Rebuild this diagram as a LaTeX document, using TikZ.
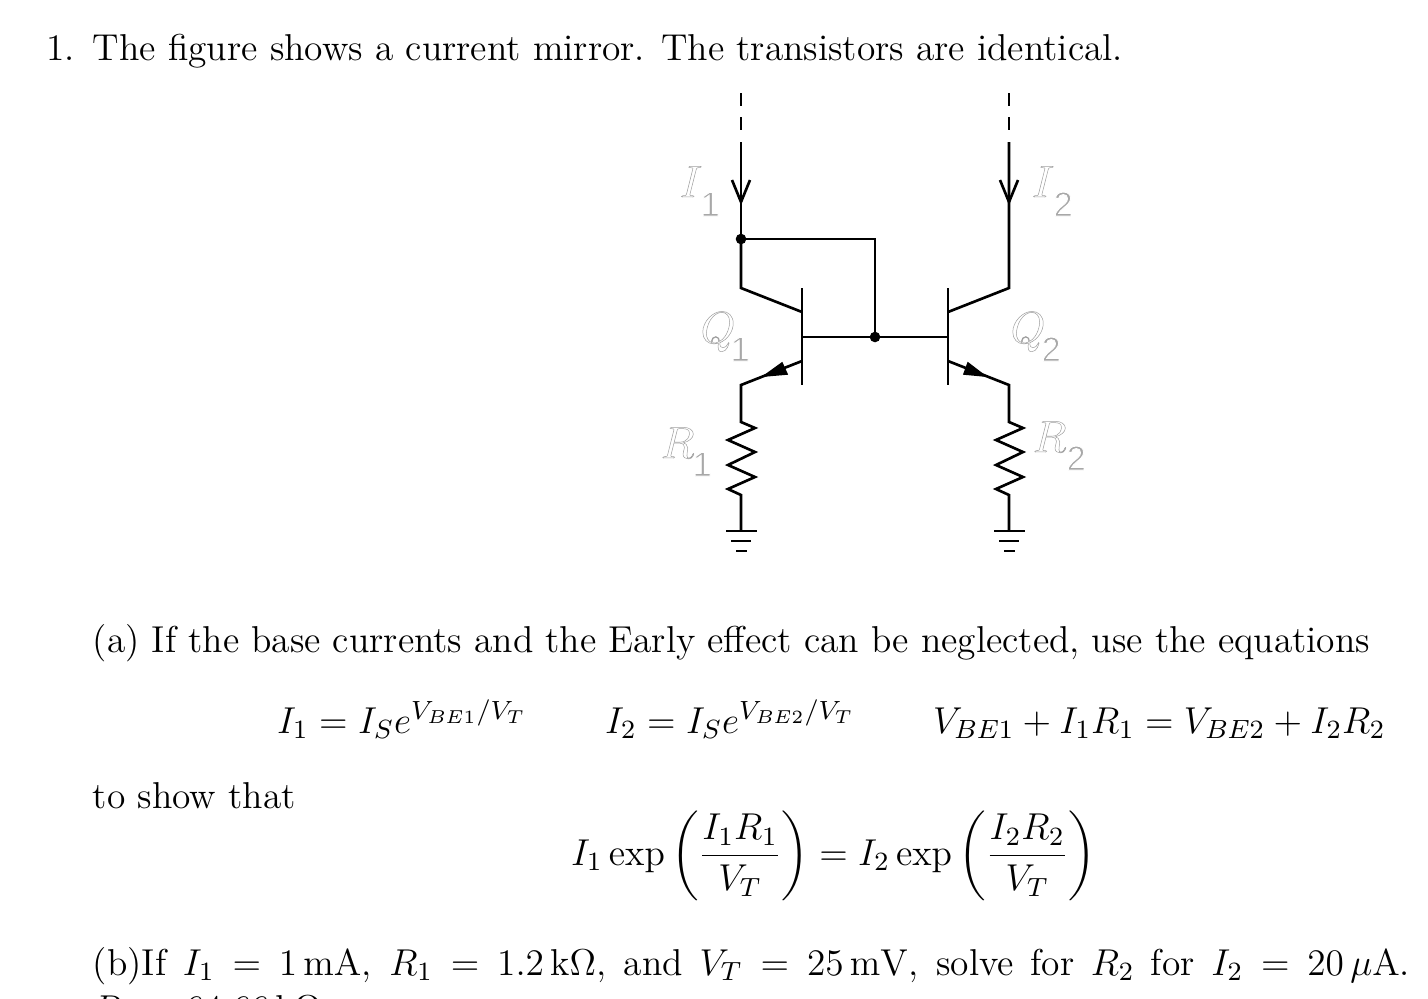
\documentclass[tikz,border=0pt,12pt]{standalone}
\usepackage{amsmath}
\usepackage[no-math]{fontspec}
\DeclareFontShape{OML}{cmm}{m}{it}{<5><6><7><8><9>gen*cmmi<8.45>cmmi8<10><10.95>cmmi10<12><14.4><17.28><20.74><24.88>cmmi12}{}
\DeclareFontShape{OT1}{cmr}{m}{n}{<5><6><7><8><9>gen*cmr<8.45>cmr8<10><10.95>cmr10<12><14.4><17.28><20.74><24.88>cmr12}{}
\DeclareMathSizes{12}{12}{8.45}{6}
\newfontfamily\labsans{Liberation Sans}
\newlength{\pxu}\setlength{\pxu}{0.3207pt}
\newcommand{\hollow}[1]{\special{pdf:code q 1 Tr 0.16 w}#1\special{pdf:code Q}}
\newcommand{\slim}[1]{\special{pdf:code q 2 Tr 0.3 w 1 1 1 RG}#1\special{pdf:code Q}}
\definecolor{lab}{gray}{0.62}
\definecolor{labs}{gray}{0.66}
\tikzset{
  wire/.style={line width=0.85pt,line join=miter},
  dash wire/.style={line width=0.95pt,dash pattern=on 13\pxu off 11\pxu},
  thin wire/.style={line width=0.68pt},
  txt/.style={inner sep=0pt,outer sep=0pt,anchor=base west},
  eqn/.style={inner sep=0pt,outer sep=0pt,anchor=base west},
  dot/.style={circle,fill=black,inner sep=0pt,minimum size=3.4pt},
  lblm/.style={inner sep=0pt,anchor=base west,text=lab,font=\fontsize{14.8}{18}\selectfont},
  lbls/.style={inner sep=0pt,anchor=base west,text=labs,font=\labsans\fontsize{11}{14}\selectfont},
  head/.style={fill=black,draw=black,line width=0.5pt,line join=miter}
}
\begin{document}
\begin{tikzpicture}[x=\pxu,y=-\pxu]
\useasboundingbox (0,0) rectangle (1428,998);
\clip (0,0) rectangle (1428,998);
% text
\node[txt] (num) at (46,60) {1.};
\node[txt] (t1) at (93,60) {The figure shows a current mirror. The transistors are identical.};
\node[txt] (ta) at (93,652) {\hbox to 1277\pxu{(a) If the base currents and the Early effect can be neglected, use the equations}};
\node[eqn] (e1) at (277,733) {$I_1=I_S e^{V_{BE1}/V_T}$};
\node[eqn] (e2) at (605,733) {$I_2=I_S e^{V_{BE2}/V_T}$};
\node[eqn] (e3) at (933,733) {$V_{BE1}+I_1R_1=V_{BE2}+I_2R_2$};
\node[txt] (tb) at (93,808) {to show that};
\node[eqn] (e4) at (571,865) {$\displaystyle I_1\exp\left(\frac{I_1R_1}{V_T}\right)=I_2\exp\left(\frac{I_2R_2}{V_T}\right)$};
\node[txt] (tc) at (93,975) {\hbox to 1317\pxu{(b)If $I_1=1\,\mathrm{mA}$, $R_1=1.2\,\mathrm{k\Omega}$, and $V_T=25\,\mathrm{mV}$, solve for $R_2$ for $I_2=20\,\mu\mathrm{A}$.}};
\node[txt] (td) at (93,1021) {$R_2=64.66\,\mathrm{k\Omega}$};
% coordinates
\coordinate (la) at (741,93);
\coordinate (lb) at (741,130);
\coordinate (lc) at (741,142);
\coordinate (ltip) at (741,202);
\node[dot] (j1) at (741,239) {};
\coordinate (lcol) at (741,288);
\coordinate (q1c) at (802,312);
\coordinate (q1t) at (802,288);
\coordinate (q1b) at (802,385);
\coordinate (q1base) at (802,337);
\coordinate (q1e) at (802,361);
\coordinate (lem) at (741,385);
\coordinate (jt) at (875,239);
\node[dot] (j2) at (875,337) {};
\coordinate (q2base) at (948,337);
\coordinate (q2t) at (948,288);
\coordinate (q2b) at (948,385);
\coordinate (q2c) at (948,312);
\coordinate (q2e) at (948,361);
\coordinate (ra) at (1009,93);
\coordinate (rb) at (1009,130);
\coordinate (rc) at (1009,142);
\coordinate (rtip) at (1009,202);
\coordinate (rcol) at (1009,288);
\coordinate (rem) at (1009,385);
% top dashed feeds
\draw[dash wire] (la) -- (lb);
\draw[dash wire] (ra) -- (rb);
% current arrows
\draw[wire] (lc) -- (j1.center);
\draw[wire] (732,180) -- (ltip) -- (750,180);
\draw[wire] (rc) -- (rcol) -- (q2c);
\draw[wire] (1000,180) -- (rtip) -- (1018,180);
% Q1
\draw[wire] (j1.center) -- (lcol) -- (q1c);
\draw[wire] (j1.center) -- (jt) -- (j2.center);
\draw[thin wire] (q1t) -- (q1b);
\draw[thin wire] (q1base) -- (j2.center) -- (q2base);
\draw[thin wire] (q2t) -- (q2b);
\draw[wire] (q1e) -- (lem) -- (741,422) -- (755,428) -- (728,440) -- (755,452) -- (728,465) -- (755,477) -- (728,489) -- (741,495) -- (741,531);
\draw[wire] (q2e) -- (rem) -- (1009,422) -- (1023,428) -- (996,440) -- (1023,452) -- (996,465) -- (1023,477) -- (996,489) -- (1009,495) -- (1009,531);
\filldraw[head] (764,376) -- (782,363) -- (787,374) -- cycle;
\filldraw[head] (985,376) -- (968,363) -- (964,374) -- cycle;
% grounds
\draw[wire] (726,531) -- (757,531) (731,541) -- (751,541) (736,551) -- (747,551);
\draw[wire] (994,531) -- (1025,531) (999,541) -- (1019,541) (1004,551) -- (1015,551);
% labels
\node[lblm] (li1) at (679,197) {\hollow{$I$}};
\node[lbls] (ls1) at (700,216) {\slim{1}};
\node[lblm] (li2) at (1031,197) {\hollow{$I$}};
\node[lbls] (ls2) at (1053,216) {\slim{2}};
\node[lblm] (lq1) at (700,343) {\hollow{$Q$}};
\node[lbls] (lqs1) at (730,361) {\slim{1}};
\node[lblm] (lq2) at (1010,343) {\hollow{$Q$}};
\node[lbls] (lqs2) at (1041,361) {\slim{2}};
\node[lblm] (lr1) at (660,458) {\hollow{$R$}};
\node[lbls] (lrs1) at (692,476) {\slim{1}};
\node[lblm] (lr2) at (1032,452) {\hollow{$R$}};
\node[lbls] (lrs2) at (1066,470) {\slim{2}};
\end{tikzpicture}
\end{document}
